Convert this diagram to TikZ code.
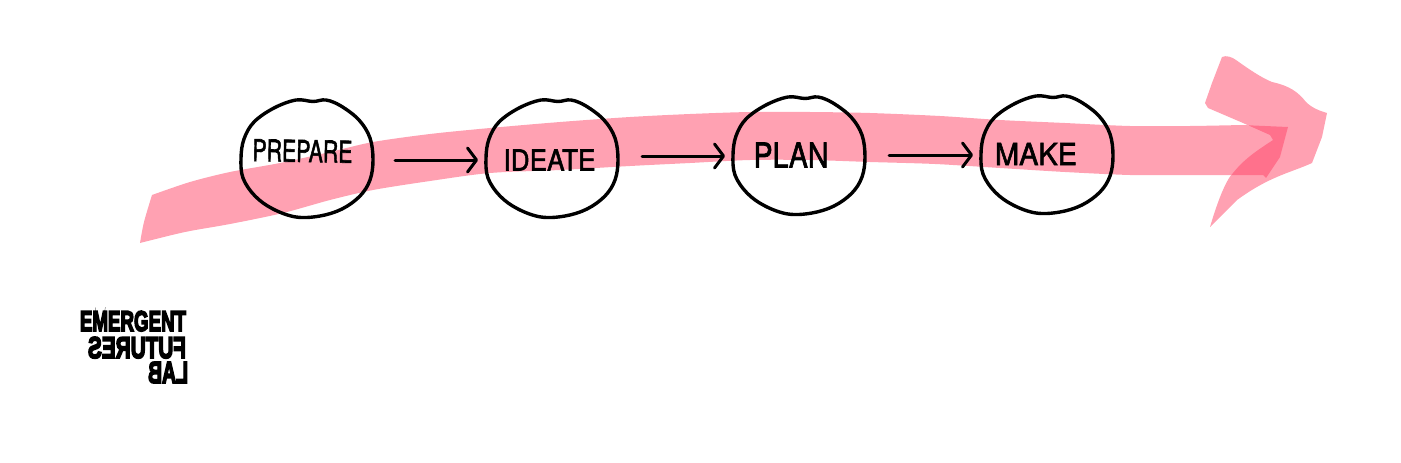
\documentclass[tikz,border=0pt]{standalone}
\usepackage{fontspec}
\usepackage{graphicx}
\usetikzlibrary{shapes.geometric,arrows.meta}
\newfontfamily\handfont[FakeBold=2]{TeX Gyre Heros}
\newfontfamily\logofont[FakeBold=6]{Liberation Sans Bold}
\definecolor{bandpink}{HTML}{FF4366}
\tikzset{
  x=1pt,y=-1pt,
  pinkfill/.style={fill=bandpink,fill opacity=.5,draw=none},
  stage/.style={ellipse,draw=none,inner sep=0pt,outer sep=0pt,minimum width=132pt,minimum height=116pt},
  outline/.style={draw=black,line width=3.4pt,line join=round},
  flow/.style={draw=black,line width=3pt,line cap=round,-{Straight Barb[length=9pt,width=24pt,line width=3pt,round]}},
  hand/.style={inner sep=0pt,outer sep=0pt,text=black,font=\handfont},
  logo/.style={inner sep=0pt,outer sep=0pt,text=black,font=\logofont,anchor=north east}
}
\newcommand{\wobble}[1]{%
  \draw[outline,shift={(#1)}] plot[smooth cycle,tension=.6] coordinates {
    (66,2) (63,22) (53,38) (35,51) (13,58) (-11,59) (-34,51) (-52,38) (-64,20) (-66,0)
    (-63,-19) (-53,-36) (-33,-50) (-11,-58) (6,-56.5) (19,-58) (34,-52) (52,-38) (63,-20)};}
\begin{document}
\begin{tikzpicture}
\useasboundingbox (0,0) rectangle (1401,463);
% band
\fill[pinkfill] plot[smooth,tension=.5] coordinates {
   (152,195) (190,182) (230,172) (280,163) (330,152) (373,142) (430,134) (490,128) (560,122) (630,117) (690,114) (750,112) (810,112) (870,113) (940,116) (1000,120) (1065,123) (1130,126) (1190,126) (1242,125)}
  -- (1288,127) -- (1280,157) -- (1266,178) -- (1263,175)
  -- plot[smooth,tension=.5] coordinates {(1180,175) (1130,175) (1065,172) (1000,168) (935,164) (870,162) (810,160) (750,160) (690,163) (630,166) (560,170) (490,173) (430,181) (373,190) (330,200) (283,213) (230,224) (185,232) (140,243)}
  -- plot[smooth,tension=.5] coordinates {(140,243) (144,222) (152,195)};
% head
\fill[pinkfill] (1205,103) -- (1212,83) -- (1222,57)
  .. controls (1226,55) and (1232,57) .. (1236,60)
  .. controls (1250,70) and (1262,78) .. (1272,82)
  .. controls (1290,86) and (1298,92) .. (1306,102)
  .. controls (1312,108) and (1320,111) .. (1327,113)
  -- (1322,137) -- (1312,163)
  .. controls (1290,173) and (1270,176) .. (1237,200)
  -- (1210,227)
  .. controls (1218,200) and (1226,180) .. (1233,173)
  .. controls (1245,158) and (1258,150) .. (1273,140)
  -- (1270,135) -- (1243,123) -- (1208,108) -- cycle;
% circles
\wobble{307,158}
\wobble{552,158}
\wobble{799,155}
\wobble{1047,154}
\node[stage] (a) at (307,158) {};
\node[stage] (b) at (552,158) {};
\node[stage] (c) at (799,155) {};
\node[stage] (d) at (1047,154) {};
% labels
\node[hand,rotate=-1] (prepare) at (302.5,151) {\resizebox{100pt}{22pt}{PREPARE}};
\node[hand] (ideate) at (549.5,160) {\resizebox{92pt}{21pt}{IDEATE}};
\node[hand] (plan) at (791,155) {\resizebox{75pt}{25pt}{PLAN}};
\node[hand] (make) at (1036,154) {\resizebox{82pt}{22pt}{MAKE}};
% connectors
\draw[flow] ([xshift=22pt,yshift=-2pt]a.east) -- ([xshift=-8pt,yshift=-2pt]b.west);
\draw[flow] ([xshift=24pt,yshift=2pt]b.east) -- ([xshift=-8pt,yshift=-1pt]c.west);
\draw[flow] ([xshift=24pt,yshift=0pt]c.east) -- ([xshift=-8pt,yshift=-1pt]d.west);
% logo
\node[logo] (l1) at (186,311) {\resizebox{106pt}{20pt}{EMERGENT}};
\node[logo] (l2) at (186,337) {\resizebox{98pt}{21pt}{\reflectbox{FUTURES}}};
\node[logo] (l3) at (188,362) {\resizebox{40pt}{21pt}{\reflectbox{LAB}}};
\end{tikzpicture}
\end{document}
